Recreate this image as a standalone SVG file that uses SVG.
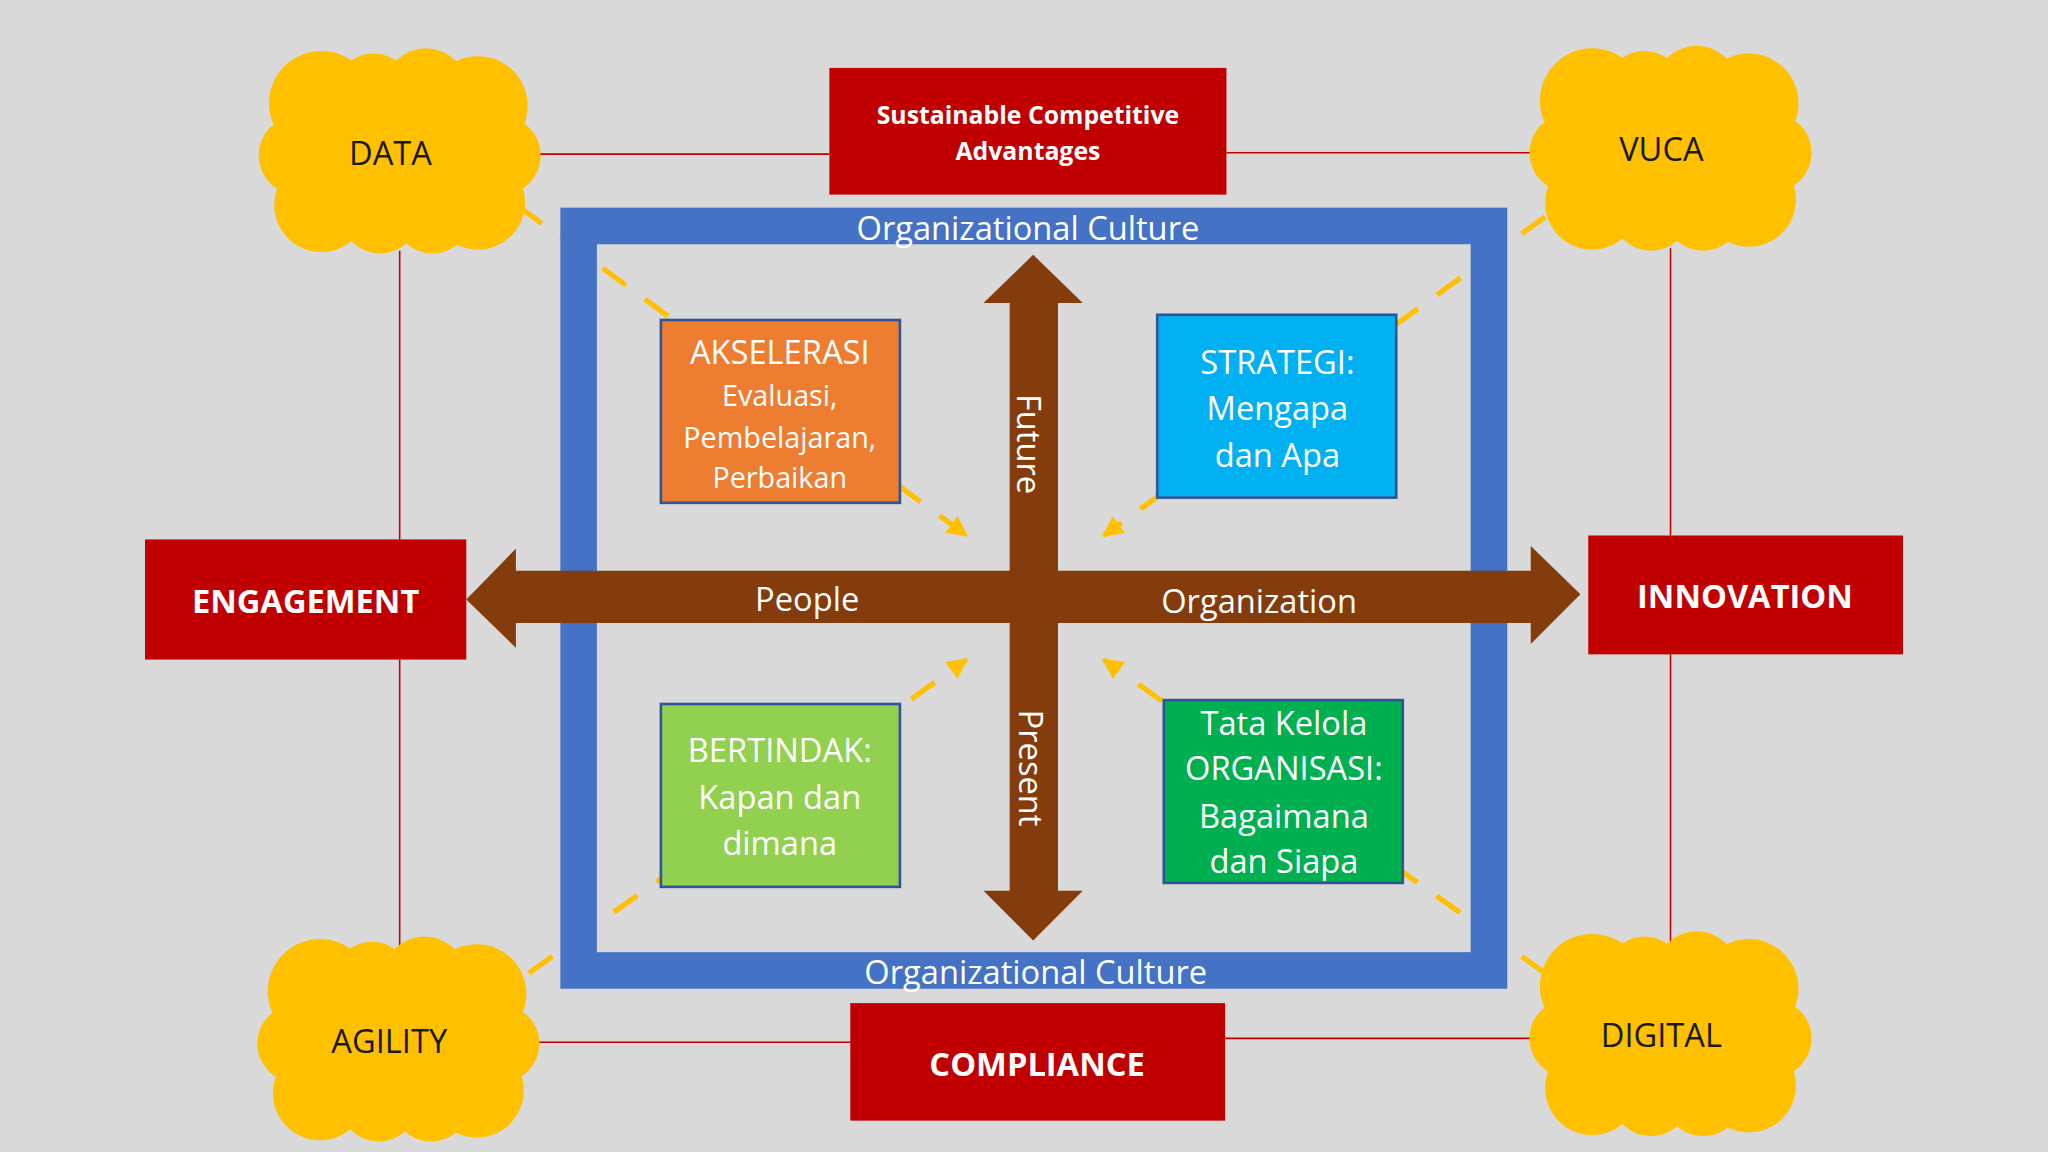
<svg xmlns="http://www.w3.org/2000/svg" width="2048" height="1152" viewBox="0 0 2048 1152">
<style>
.t{font-family:"Open Sans","Noto Sans",sans-serif;text-anchor:middle;dominant-baseline:central}
.w{fill:#fff}
.b{font-weight:bold;fill:#fff}
.red{fill:#c00000}
.rl{stroke:#c00000;stroke-width:1.2;fill:none}
.dash{stroke:#ffc000;stroke-width:4;stroke-dasharray:22 18;fill:none}
.box{stroke:#2f5597;stroke-width:2}
</style>
<defs>
<g id="cloud" fill="#ffc000">
<circle cx="-60" cy="-40" r="40"/><circle cx="-20" cy="-48" r="30"/><circle cx="20" cy="-50" r="32"/><circle cx="60" cy="-38" r="38"/>
<circle cx="-78" cy="0" r="30"/><circle cx="78" cy="0" r="30"/>
<circle cx="-60" cy="38" r="36"/><circle cx="-15" cy="45" r="30"/><circle cx="25" cy="45" r="30"/><circle cx="60" cy="36" r="36"/>
<ellipse cx="0" cy="0" rx="80" ry="55"/>
</g>
<marker id="ah" viewBox="0 0 10 10" refX="9" refY="5" markerWidth="4" markerHeight="4" orient="auto"><path d="M0,0L10,5L0,10z" fill="#ffc000"/></marker>
</defs>
<rect width="2048" height="1152" fill="#d9d9d9"/>
<g transform="scale(1.30612)">
<g id="connectors">
<path class="rl" d="M410,118H635M939,117H1175M306,192V413M306,505V735M1279,190V410M1279,501V730M410,798H651M938,795H1175"/>
<path class="dash" d="M397,158L740,410" marker-end="url(#ah)"/>
<path class="dash" d="M1183,166L845,410" marker-end="url(#ah)"/>
<path class="dash" d="M405,745L740,505" marker-end="url(#ah)"/>
<path class="dash" d="M1183,745L845,505" marker-end="url(#ah)"/>
</g>
<g id="frame">
<rect x="443" y="173" width="697" height="570" fill="none" stroke="#4472c4" stroke-width="28"/>
<text class="t w" x="787" y="174" font-size="25">Organizational Culture</text>
<text class="t w" x="793" y="744" font-size="25">Organizational Culture</text>
</g>
<g id="arrows" fill="#843c0c">
<path d="M357,459L395,420V437H1172V418L1210,455L1172,493V477H395V496Z"/>
<path d="M791,195L829,232H810V682H829L791,720L753,682H773V232H753Z"/>
<text class="t w" x="618" y="458" font-size="25">People</text>
<text class="t w" x="964" y="460" font-size="25">Organization</text>
<text class="t w" font-size="25" transform="translate(788,340) rotate(90)">Future</text>
<text class="t w" font-size="25" transform="translate(790,588) rotate(90)">Present</text>
</g>
<g id="akselerasi"><rect class="box" x="506" y="245" width="183" height="140" fill="#ed7d31"/>
<text class="t w" x="597" y="269" font-size="25">AKSELERASI</text><text class="t w" x="597" y="302" font-size="22">Evaluasi,</text><text class="t w" x="597" y="334" font-size="22">Pembelajaran,</text><text class="t w" x="597" y="365" font-size="22">Perbaikan</text></g>
<g id="strategi"><rect class="box" x="886" y="241" width="183" height="140" fill="#00b0f0"/>
<text class="t w" x="978" y="277" font-size="25">STRATEGI:</text><text class="t w" x="978" y="312" font-size="25">Mengapa</text><text class="t w" x="978" y="348" font-size="25">dan Apa</text></g>
<g id="bertindak"><rect class="box" x="506" y="539" width="183" height="140" fill="#92d050"/>
<text class="t w" x="597" y="574" font-size="25">BERTINDAK:</text><text class="t w" x="597" y="610" font-size="25">Kapan dan</text><text class="t w" x="597" y="645" font-size="25">dimana</text></g>
<g id="tatakelola"><rect class="box" x="891" y="536" width="183" height="140" fill="#00b050"/>
<text class="t w" x="983" y="553" font-size="25">Tata Kelola</text><text class="t w" x="983" y="588" font-size="25">ORGANISASI:</text><text class="t w" x="983" y="624" font-size="25">Bagaimana</text><text class="t w" x="983" y="659" font-size="25">dan Siapa</text></g>
<g id="sca"><rect class="red" x="635" y="52" width="304" height="97"/><text class="t b" x="787" y="87" font-size="19">Sustainable Competitive</text><text class="t b" x="787" y="115" font-size="19">Advantages</text></g>
<g id="engagement"><rect class="red" x="111" y="413" width="246" height="92"/><text class="t b" x="234" y="460" font-size="25">ENGAGEMENT</text></g>
<g id="innovation"><rect class="red" x="1216" y="410" width="241" height="91"/><text class="t b" x="1336" y="456" font-size="25">INNOVATION</text></g>
<g id="compliance"><rect class="red" x="651" y="768" width="287" height="90"/><text class="t b" x="794" y="814" font-size="25">COMPLIANCE</text></g>
<g id="data"><use href="#cloud" x="306" y="119"/><text class="t" x="299" y="117" font-size="25" fill="#1a1a1a">DATA</text></g>
<g id="vuca"><use href="#cloud" x="1279" y="117"/><text class="t" x="1272" y="114" font-size="25" fill="#1a1a1a">VUCA</text></g>
<g id="agility"><use href="#cloud" x="305" y="799"/><text class="t" x="298" y="797" font-size="25" fill="#1a1a1a">AGILITY</text></g>
<g id="digital"><use href="#cloud" x="1279" y="795"/><text class="t" x="1272" y="792" font-size="25" fill="#1a1a1a">DIGITAL</text></g>
</g>
</svg>
